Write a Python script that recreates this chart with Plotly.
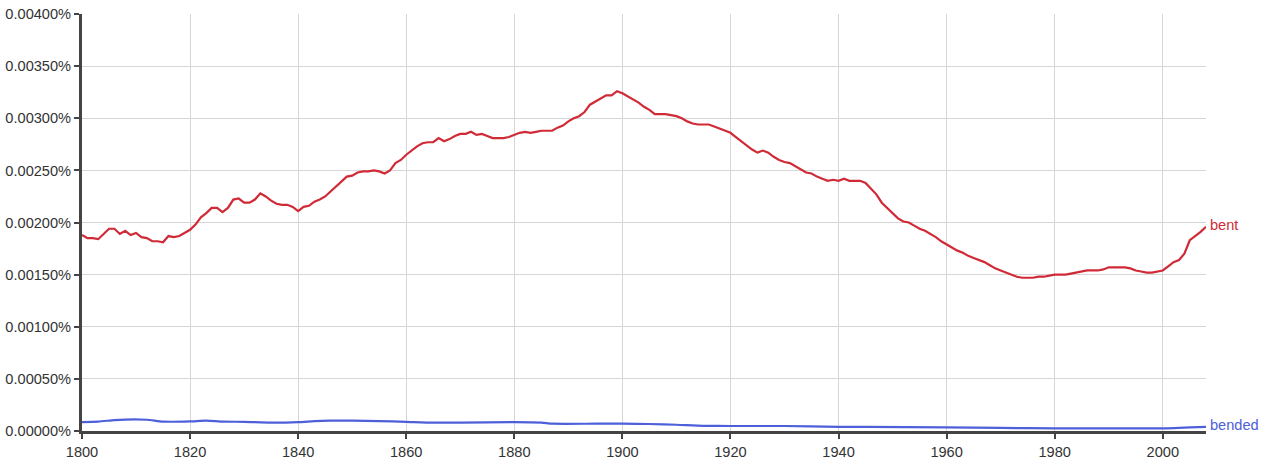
import plotly.graph_objects as go

years = list(range(1800, 2009))
bent = [
    0.00188, 0.00185, 0.00185, 0.00184, 0.00189, 0.00194, 0.00194, 0.00189, 0.00192, 0.00188,
    0.00190, 0.00186, 0.00185, 0.00182, 0.00182, 0.00181, 0.00187, 0.00186, 0.00187, 0.00190,
    0.00193, 0.00198, 0.00205, 0.00209, 0.00214, 0.00214, 0.00210, 0.00214, 0.00222, 0.00223,
    0.00219, 0.00219, 0.00222, 0.00228, 0.00225, 0.00221, 0.00218, 0.00217, 0.00217, 0.00215,
    0.00211, 0.00215, 0.00216, 0.00220, 0.00222, 0.00225, 0.00230, 0.00235, 0.00240, 0.00244,
    0.00245, 0.00248, 0.00249, 0.00249, 0.00250, 0.00249, 0.00247, 0.00250, 0.00257, 0.00260,
    0.00265, 0.00269, 0.00273, 0.00276, 0.00277, 0.00277, 0.00281, 0.00278, 0.00280, 0.00283,
    0.00285, 0.00285, 0.00287, 0.00284, 0.00285, 0.00283, 0.00281, 0.00281, 0.00281, 0.00282,
    0.00284, 0.00286, 0.00287, 0.00286, 0.00287, 0.00288, 0.00288, 0.00288, 0.00291, 0.00293,
    0.00297, 0.00300, 0.00302, 0.00306, 0.00313, 0.00316, 0.00319, 0.00322, 0.00322, 0.00326,
    0.00324, 0.00321, 0.00318, 0.00315, 0.00311, 0.00308, 0.00304, 0.00304, 0.00304, 0.00303,
    0.00302, 0.00300, 0.00297, 0.00295, 0.00294, 0.00294, 0.00294, 0.00292, 0.00290, 0.00288,
    0.00286, 0.00282, 0.00278, 0.00274, 0.00270, 0.00267, 0.00269, 0.00267, 0.00263, 0.00260,
    0.00258, 0.00257, 0.00254, 0.00251, 0.00248, 0.00247, 0.00244, 0.00242, 0.00240, 0.00241,
    0.00240, 0.00242, 0.00240, 0.00240, 0.00240, 0.00238, 0.00232, 0.00227, 0.00219, 0.00214,
    0.00209, 0.00204, 0.00201, 0.00200, 0.00197, 0.00194, 0.00192, 0.00189, 0.00186, 0.00182,
    0.00179, 0.00176, 0.00173, 0.00171, 0.00168, 0.00166, 0.00164, 0.00162, 0.00159, 0.00156,
    0.00154, 0.00152, 0.00150, 0.00148, 0.00147, 0.00147, 0.00147, 0.00148, 0.00148, 0.00149,
    0.00150, 0.00150, 0.00150, 0.00151, 0.00152, 0.00153, 0.00154, 0.00154, 0.00154, 0.00155,
    0.00157, 0.00157, 0.00157, 0.00157, 0.00156, 0.00154, 0.00153, 0.00152, 0.00152, 0.00153,
    0.00154, 0.00158, 0.00162, 0.00164, 0.00170, 0.00183, 0.00187, 0.00191, 0.00196,
]

bended_years = [1800, 1803, 1806, 1808, 1812, 1815, 1820, 1823, 1826, 1830, 1835, 1840,
                1843, 1846, 1850, 1855, 1860, 1865, 1870, 1880, 1885, 1887, 1895, 1900,
                1905, 1910, 1915, 1920, 1930, 1940, 1945, 1960, 1970, 1980, 1990, 2000,
                2003, 2005, 2008]
bended = [0.000085, 0.000090, 0.000105, 0.000110, 0.000108, 0.000090, 0.000092, 0.000100,
          0.000090, 0.000088, 0.000080, 0.000085, 0.000095, 0.000100, 0.000100, 0.000095,
          0.000088, 0.000080, 0.000080, 0.000085, 0.000080, 0.000070, 0.000070, 0.000070,
          0.000067, 0.000060, 0.000050, 0.000048, 0.000048, 0.000040, 0.000040, 0.000035,
          0.000030, 0.000025, 0.000025, 0.000025, 0.000030, 0.000035, 0.000040]

y_ticks = [0.0, 0.0005, 0.0010, 0.0015, 0.0020, 0.0025, 0.0030, 0.0035, 0.0040]
y_labels = ["0.00000%", "0.00050%", "0.00100%", "0.00150%", "0.00200%",
            "0.00250%", "0.00300%", "0.00350%", "0.00400%"]
x_ticks = [1800, 1820, 1840, 1860, 1880, 1900, 1920, 1940, 1960, 1980, 2000]

RED = "#d12a37"
BLUE = "#4d60da"

fig = go.Figure()
fig.add_trace(go.Scatter(x=years, y=bent, mode="lines", name="bent",
                         line=dict(color=RED, width=2.2), hoverinfo="x+y"))
fig.add_trace(go.Scatter(x=bended_years, y=bended, mode="lines", name="bended",
                         line=dict(color=BLUE, width=2.2, shape="spline", smoothing=0.6),
                         hoverinfo="x+y"))

fig.add_annotation(x=years[-1], y=bent[-1], text="bent", showarrow=False,
                   xanchor="left", xshift=2, yshift=2, font=dict(color=RED, size=14.6))
fig.add_annotation(x=bended_years[-1], y=bended[-1], text="bended", showarrow=False,
                   xanchor="left", xshift=2, yshift=2, font=dict(color=BLUE, size=14.6))

fig.update_layout(
    width=1276, height=463,
    margin=dict(l=82, r=70, t=14, b=32, autoexpand=False),
    paper_bgcolor="white", plot_bgcolor="white",
    showlegend=False,
    font=dict(family="Liberation Sans, Arial, sans-serif", size=14.6, color="#333333"),
)
fig.update_xaxes(range=[1800, 2008], tickvals=x_ticks, ticktext=[str(t) for t in x_ticks],
                 showgrid=True, gridcolor="#d6d6d6", gridwidth=1,
                 showline=True, linecolor="#444444", linewidth=3,
                 ticks="outside", ticklen=5, tickwidth=2, tickcolor="#444444",
                 zeroline=False, fixedrange=True, automargin=False)
fig.update_yaxes(range=[0, 0.0040], tickvals=y_ticks, ticktext=y_labels,
                 showgrid=True, gridcolor="#d6d6d6", gridwidth=1,
                 showline=True, linecolor="#444444", linewidth=3,
                 ticks="outside", ticklen=5, tickwidth=2, tickcolor="#444444",
                 zeroline=False, fixedrange=True, automargin=False)

fig.write_html("out.html", config={"displayModeBar": False},
               post_script="document.body.style.margin='0';document.body.style.overflow='hidden';")
